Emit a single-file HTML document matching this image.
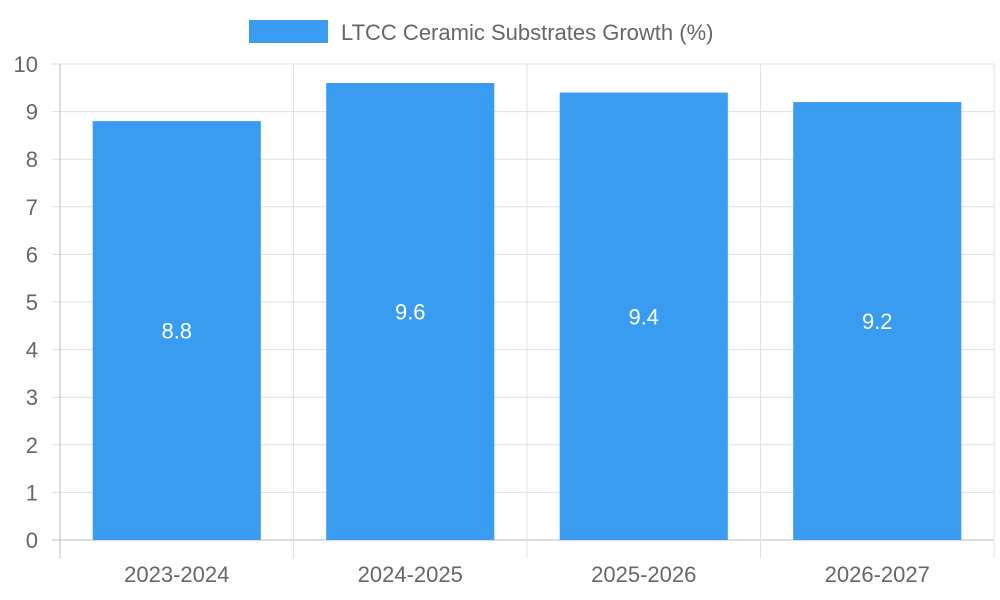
<!DOCTYPE html>
<html><head><meta charset="utf-8"><style>
body{margin:0;background:#fff;}
svg{display:block;font-family:"Liberation Sans",sans-serif;}
</style></head><body>
<svg id="chart" width="1000" height="600">
<g>
<rect x="249" y="20" width="79" height="23" fill="#399cf0"/>
<text x="341" y="40" font-size="22" fill="#666">LTCC Ceramic Substrates Growth (%)</text>
</g>
<g id="grid"></g>
<g id="bars"></g>
<g id="axes"></g>
</svg>
<script>
const categories = ["2023-2024","2024-2025","2025-2026","2026-2027"];
const values = [8.8, 9.6, 9.4, 9.2];
const yTicks = [0,1,2,3,4,5,6,7,8,9,10];
const NS="http://www.w3.org/2000/svg";
const L=60,R=994,T=64,B=540,yMax=10;
const y=v=>B-(v/yMax)*(B-T);
const bw=(R-L)/categories.length;
const x=i=>L+bw*i;
function mk(tag,attrs,parent,text){const e=document.createElementNS(NS,tag);for(const k in attrs)e.setAttribute(k,attrs[k]);if(text!==undefined)e.textContent=text;parent.appendChild(e);return e;}
const grid=document.getElementById('grid'),bars=document.getElementById('bars'),axes=document.getElementById('axes');
yTicks.forEach(t=>{
  const l=mk('line',{x1:L-8,x2:R,y1:y(t),y2:y(t),stroke:t===0?'#bbb':'#e0e0e0','stroke-width':1},grid);
  
  
  const tx=mk('text',{x:L-22,y:y(t)+8,'text-anchor':'end','font-size':22,fill:'#666'},axes,String(t));
  
  
});
for(let i=0;i<=categories.length;i++){
  const l=mk('line',{x1:x(i),x2:x(i),y1:T,y2:B+18,stroke:(i===0)?'#bbb':'#e0e0e0','stroke-width':1},grid);
  
  
}
categories.forEach((c,i)=>{
  const w=bw*0.72,cx=x(i)+bw/2;
  const r=mk('rect',{x:cx-w/2,y:y(values[i]),width:w,height:B-y(values[i]),fill:'#399cf0'},bars);
  
  
  const v=mk('text',{x:cx,y:(y(values[i])+B)/2+8,'text-anchor':'middle','font-size':22,fill:'#fff'},bars,String(values[i]));
  
  
  const xl=mk('text',{x:cx,y:582,'text-anchor':'middle','font-size':22,fill:'#666'},axes,c);
  
  
});
</script>
</body></html>
